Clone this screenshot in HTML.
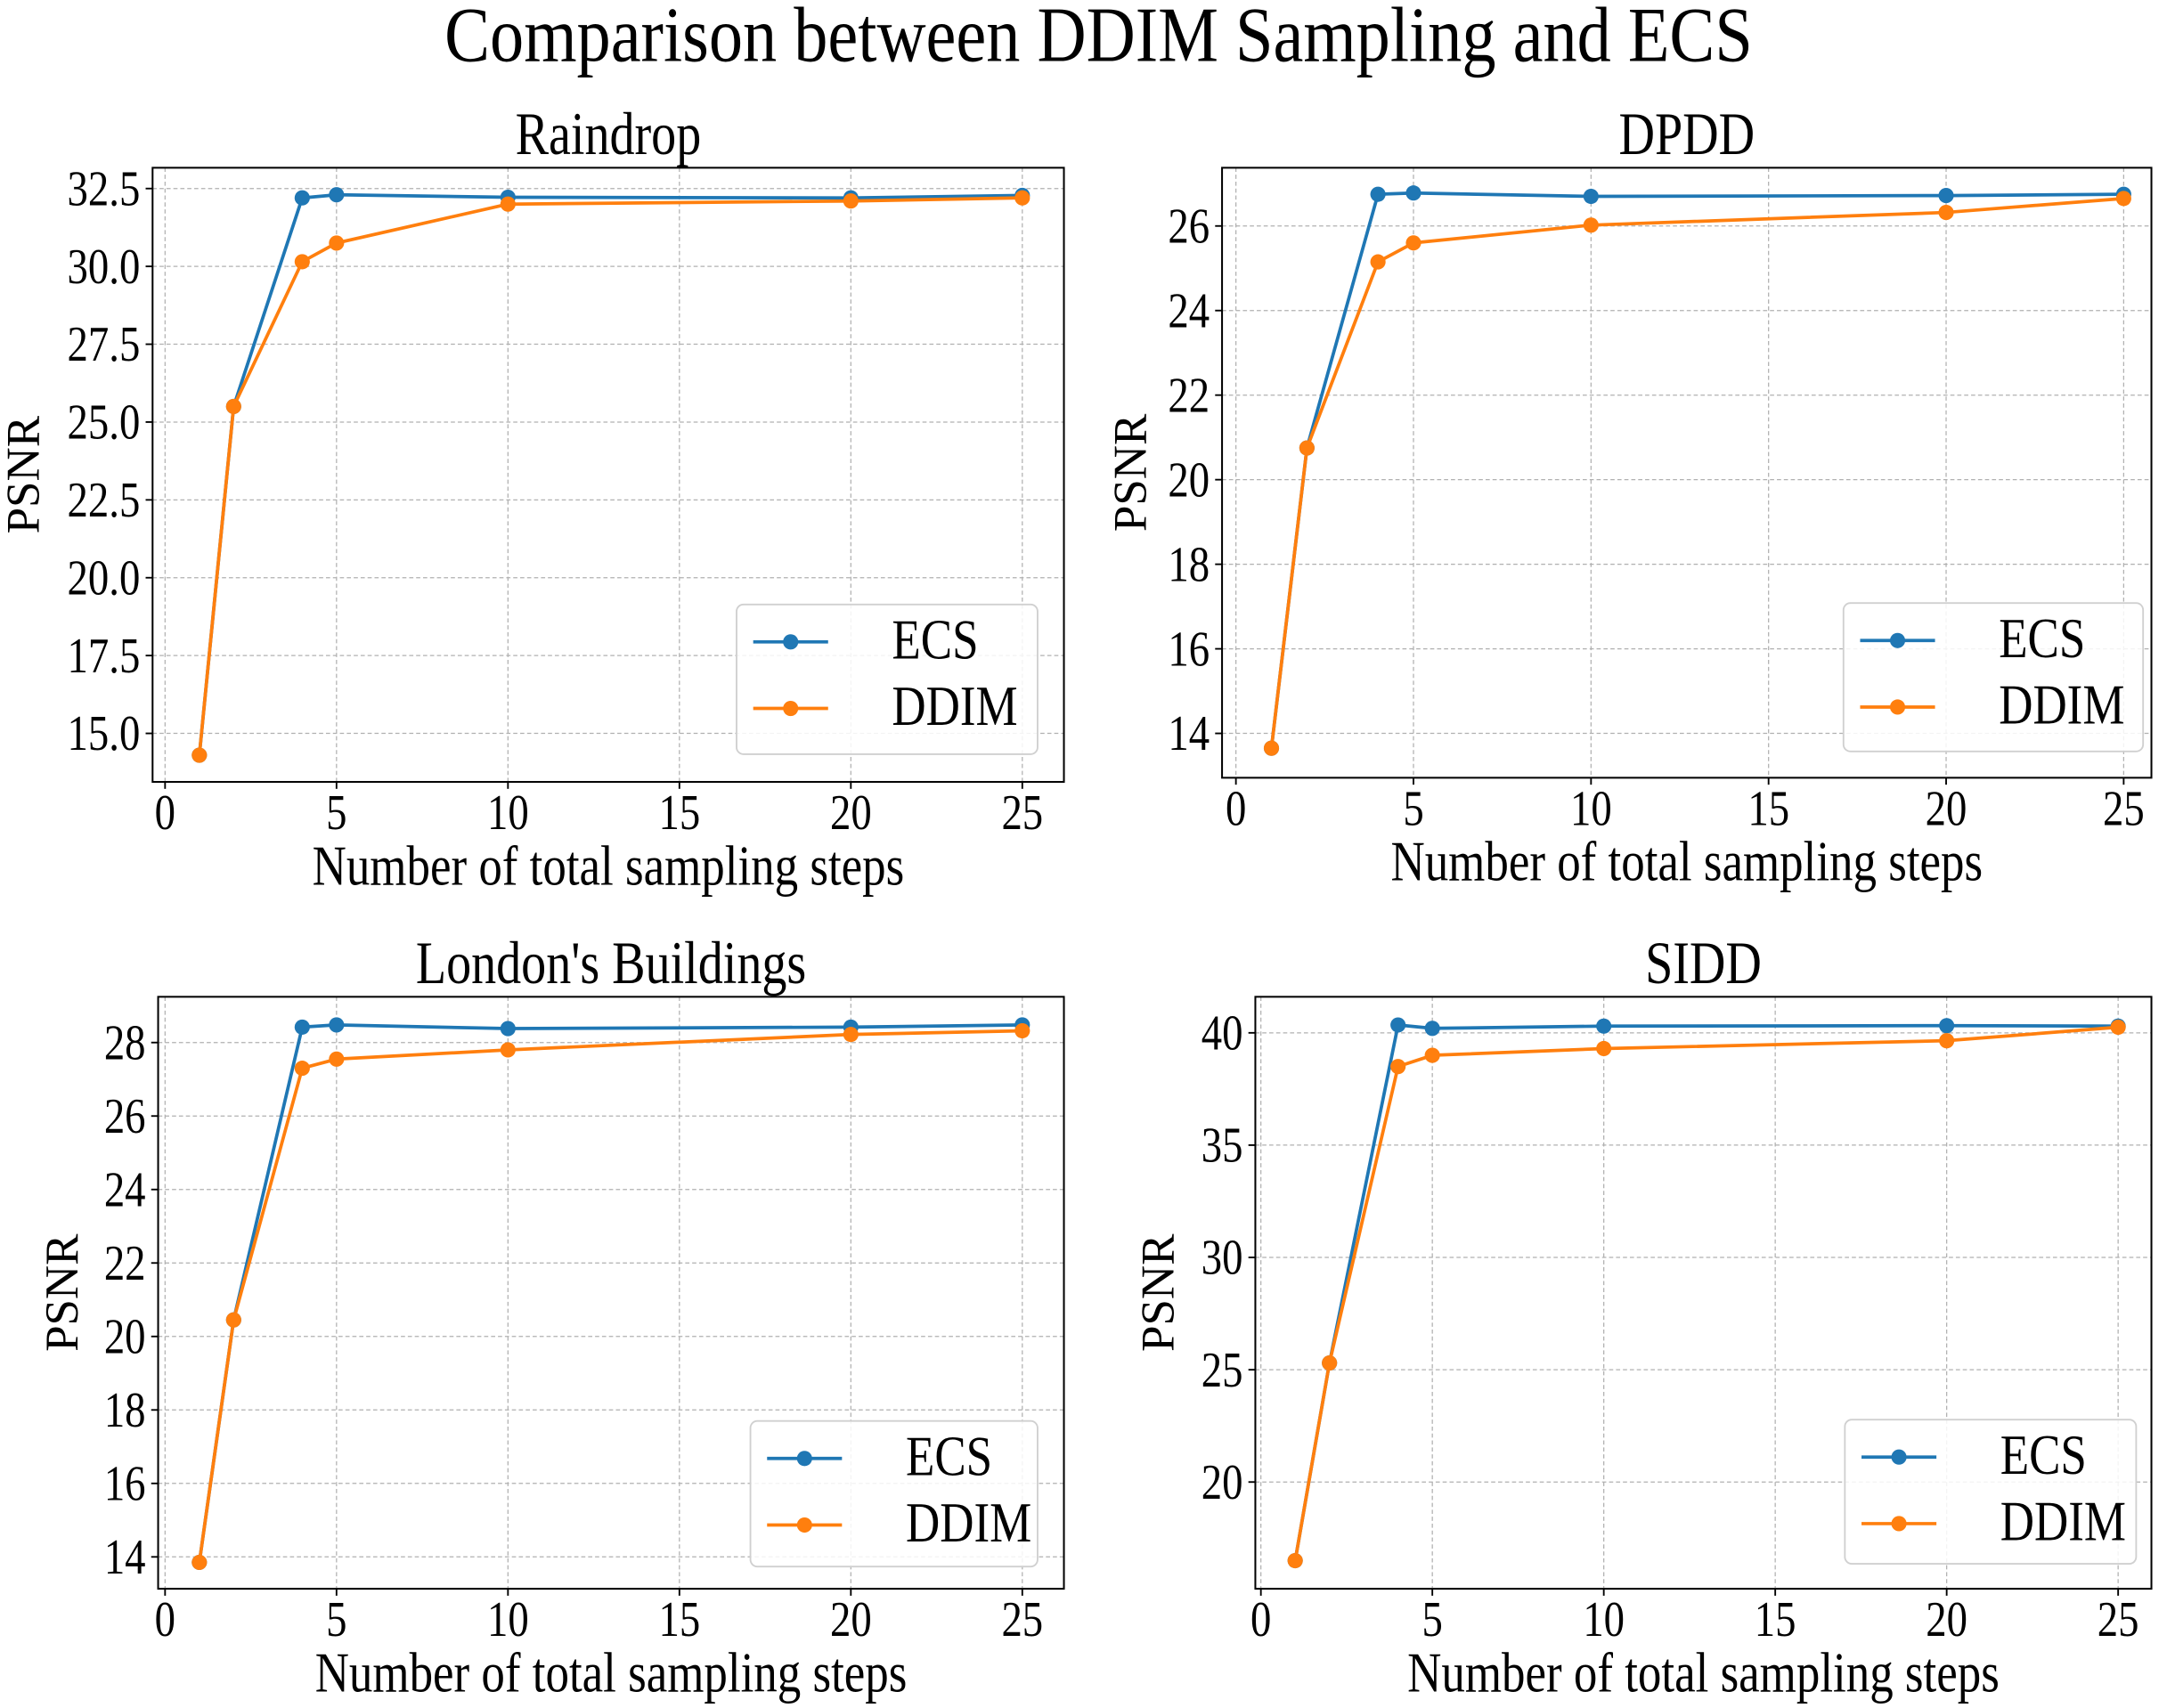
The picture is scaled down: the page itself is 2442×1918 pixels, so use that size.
<!DOCTYPE html>
<html><head><meta charset="utf-8">
<style>
html,body{margin:0;padding:0;background:#fff;}
svg{display:block;font-family:"Liberation Serif","DejaVu Serif",serif;}
</style></head>
<body>
<svg id="fig" width="2442" height="1918" viewBox="0 0 1568 1232" preserveAspectRatio="none" xmlns="http://www.w3.org/2000/svg">
<rect width="1568" height="1232" fill="#fff"/>
<text transform="translate(792 44) scale(1 1.15)" font-size="49" text-anchor="middle">Comparison between DDIM Sampling and ECS</text>
</svg>
<script>
const steps = [1, 2, 4, 5, 10, 20, 25];
const xTicks = [0, 5, 10, 15, 20, 25];
const raindropECS = [14.3, 25.5, 32.2, 32.3, 32.22, 32.2, 32.28];
const raindropDDIM = [14.3, 25.5, 30.15, 30.75, 32.0, 32.1, 32.2];
const raindropTicks = ["15.0","17.5","20.0","22.5","25.0","27.5","30.0","32.5"];
const dpddECS = [13.65, 20.75, 26.75, 26.78, 26.7, 26.72, 26.75];
const dpddDDIM = [13.65, 20.75, 25.15, 25.6, 26.02, 26.32, 26.65];
const dpddTicks = ["14","16","18","20","22","24","26"];
const londonECS = [13.85, 20.45, 28.42, 28.48, 28.38, 28.42, 28.48];
const londonDDIM = [13.85, 20.45, 27.3, 27.55, 27.8, 28.22, 28.32];
const londonTicks = ["14","16","18","20","22","24","26","28"];
const siddECS = [16.5, 25.3, 40.35, 40.2, 40.3, 40.32, 40.3];
const siddDDIM = [16.5, 25.3, 38.5, 39.0, 39.3, 39.65, 40.25];
const siddTicks = ["20","25","30","35","40"];

const NS = "http://www.w3.org/2000/svg";
const svg = document.getElementById("fig");
function mk(tag, attrs, parent){
  const e = document.createElementNS(NS, tag);
  for (const k in attrs) e.setAttribute(k, attrs[k]);
  (parent || svg).appendChild(e);
  return e;
}
function txt(x, y, size, anchor, parent){
  return mk("text", {transform: "translate(" + x + " " + y + ") scale(1 1.2)", "font-size": size, "text-anchor": anchor}, parent);
}
const BLUE = "#1f77b4", ORANGE = "#ff7f0e";

function panel(cfg){
  const g = mk("g", {});
  
  
  const xs = v => cfg.x0 + (cfg.x25 - cfg.x0) * v / 25;
  const ys = v => cfg.yA + (cfg.vA - v) * (cfg.yB - cfg.yA) / (cfg.vA - cfg.vB);
  xTicks.forEach(t => {
    const l = mk("line", {x1: xs(t), x2: xs(t), y1: cfg.top, y2: cfg.bottom, stroke: "#b0b0b0", "stroke-width": 0.8, "stroke-dasharray": "3,2"}, g);
    
    
  });
  cfg.yt.forEach(s => {
    const v = parseFloat(s);
    const l = mk("line", {x1: cfg.left, x2: cfg.right, y1: ys(v), y2: ys(v), stroke: "#b0b0b0", "stroke-width": 0.8, "stroke-dasharray": "3,2"}, g);
    
    
  });
  [[cfg.ecs, BLUE, "ecs"], [cfg.ddim, ORANGE, "ddim"]].forEach(([vals, col, nm]) => {
    const pts = vals.map((v, i) => xs(steps[i]) + "," + ys(v)).join(" ");
    const pl = mk("polyline", {points: pts, fill: "none", stroke: col, "stroke-width": 2.4, "stroke-linejoin": "round"}, g);
    
    
    vals.forEach((v, i) => {
      const c = mk("circle", {cx: xs(steps[i]), cy: ys(v), r: 5.5, fill: col}, g);
      
      
    });
  });
  const fr = mk("rect", {x: cfg.left, y: cfg.top, width: cfg.right - cfg.left, height: cfg.bottom - cfg.top, fill: "none", stroke: "#000", "stroke-width": 1.3}, g);
  
  
  xTicks.forEach(t => {
    mk("line", {x1: xs(t), x2: xs(t), y1: cfg.bottom, y2: cfg.bottom + 5, stroke: "#000", "stroke-width": 1.2}, g);
    const tx = txt(xs(t), cfg.bottom + 34, 30, "middle", g);
    tx.textContent = t;
    
    
  });
  cfg.yt.forEach(s => {
    const v = parseFloat(s);
    mk("line", {x1: cfg.left - 5, x2: cfg.left, y1: ys(v), y2: ys(v), stroke: "#000", "stroke-width": 1.2}, g);
    const tx = txt(cfg.left - 9, ys(v) + 12, 30, "end", g);
    tx.textContent = s;
    
    
  });
  const cx = (cfg.left + cfg.right) / 2;
  const ti = txt(cx, cfg.top - 10, 36, "middle", g);
  ti.textContent = cfg.title;
  
  
  const xl = txt(cx, cfg.bottom + 74, 34, "middle", g);
  xl.textContent = "Number of total sampling steps";
  
  
  const my = (cfg.top + cfg.bottom) / 2;
  const yl = mk("text", {x: cfg.ylx, y: my, "font-size": 34, "text-anchor": "middle", transform: "rotate(-90 " + cfg.ylx + " " + my + ")"}, g);
  yl.textContent = "PSNR";
  
  
  const L = cfg.leg;
  const lg = mk("g", {}, g);
  
  
  mk("rect", {x: L[0], y: L[1], width: L[2] - L[0], height: L[3] - L[1], rx: 5, fill: "#fff", "fill-opacity": 0.85, stroke: "#d0d0d0", "stroke-width": 1.2}, lg);
  [["ECS", BLUE, 27], ["DDIM", ORANGE, 75]].forEach(([lab, col, dy]) => {
    const yy = L[1] + dy;
    const en = mk("g", {}, lg);
    
    
    mk("line", {x1: L[0] + 12, x2: L[0] + 66, y1: yy, y2: yy, stroke: col, "stroke-width": 2.4}, en);
    mk("circle", {cx: L[0] + 39, cy: yy, r: 5.5, fill: col}, en);
    const t = mk("text", {transform: "translate(" + (L[0] + 112) + " " + (yy + 12) + ") scale(1 1.2)", "font-size": 34}, en);
    t.textContent = lab;
  });
}

panel({name: "raindrop", title: "Raindrop", left: 110, right: 767, top: 121, bottom: 564,
  x0: 119, x25: 737, vA: 32.5, yA: 136, vB: 15.0, yB: 529, yt: raindropTicks,
  ecs: raindropECS, ddim: raindropDDIM, ylx: 28, leg: [531, 436, 748, 544]});
panel({name: "dpdd", title: "DPDD", left: 881, right: 1551, top: 121, bottom: 561,
  x0: 891, x25: 1531, vA: 26, yA: 163, vB: 14, yB: 529, yt: dpddTicks,
  ecs: dpddECS, ddim: dpddDDIM, ylx: 826, leg: [1329, 435, 1545, 542]});
panel({name: "london", title: "London's Buildings", left: 114, right: 767, top: 719, bottom: 1146,
  x0: 119, x25: 737, vA: 28, yA: 752, vB: 14, yB: 1123, yt: londonTicks,
  ecs: londonECS, ddim: londonDDIM, ylx: 56, leg: [541, 1025, 748, 1130]});
panel({name: "sidd", title: "SIDD", left: 905, right: 1551, top: 719, bottom: 1146,
  x0: 909, x25: 1527, vA: 40, yA: 745, vB: 20, yB: 1069, yt: siddTicks,
  ecs: siddECS, ddim: siddDDIM, ylx: 846, leg: [1330, 1024, 1540, 1128]});
</script>
</body></html>
